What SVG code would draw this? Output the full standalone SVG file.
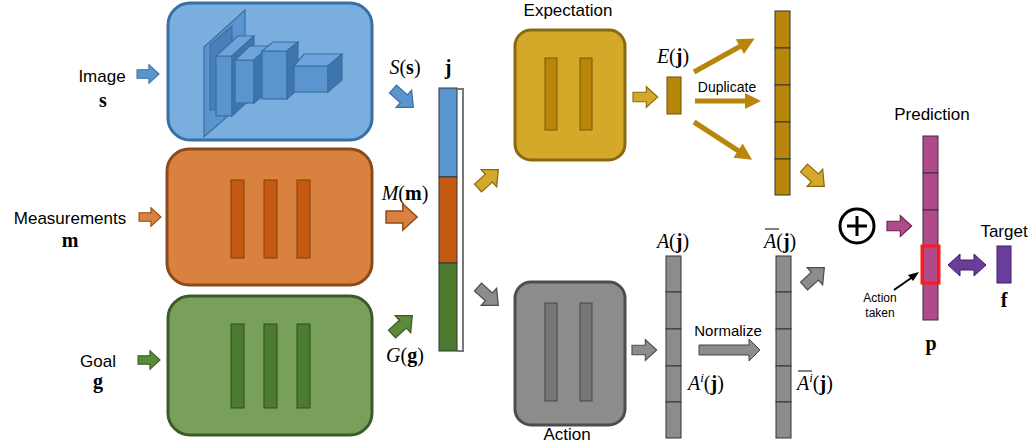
<svg xmlns="http://www.w3.org/2000/svg" xmlns:xlink="http://www.w3.org/1999/xlink" width="1035" height="443" viewBox="0 0 1035 443">
<style>
.sans{font-family:"Liberation Sans",Arial,sans-serif;fill:#000}
.math{font-family:"Liberation Serif","Times New Roman",serif;fill:#000}
.cell{stroke:#333;stroke-width:1}
</style>
<defs>
<path id="ba" d="M0,-5 H14 V-11 L26,0 L14,11 V5 H0 Z" stroke-width="1.2"/>
<path id="la" d="M0,-2.5 H50 V-8 L66,0 L50,8 V2.5 H0 Z"/>
</defs>
<rect width="1035" height="443" fill="#fff"/>
<g id="image">
<rect x="168" y="3" width="204" height="137" rx="22" fill="#7aaedf" stroke="#3a6fa5" stroke-width="3"/>
<g fill="#5b95d0" stroke="#3a6fa5" stroke-width="1.2">
<polygon points="204,137 204,47 245,10 245,101"/>
<polygon points="210,45 232,26 232,110 210,110" fill="#4a80ba"/>
<rect x="216" y="56" width="16" height="60"/>
<polygon points="216,56 238,36 254,36 232,56" fill="#6da5db"/>
<polygon points="232,56 254,36 254,96 232,116" fill="#3f75ad"/>
<rect x="235" y="60" width="19" height="43"/>
<polygon points="235,60 250,46 270,46 254,60" fill="#6da5db"/>
<polygon points="254,60 270,46 270,90 254,103" fill="#3f75ad"/>
<rect x="262" y="51" width="25" height="48"/>
<polygon points="262,51 273,42 298,42 287,51" fill="#6da5db"/>
<polygon points="287,51 298,42 298,89 287,99" fill="#3f75ad"/>
<rect x="294" y="66" width="34" height="26"/>
<polygon points="294,66 304,54 342,54 328,66" fill="#6da5db"/>
<polygon points="328,66 342,54 342,80 328,92" fill="#3f75ad"/>
</g>
</g>
<g id="measurements">
<rect x="167" y="149" width="205" height="136" rx="22" fill="#d9813f" stroke="#8b4a1a" stroke-width="3"/>
<rect x="231" y="180" width="13" height="78" fill="#c45a12" stroke="#8b3a0a"/>
<rect x="264" y="180" width="13" height="78" fill="#c45a12" stroke="#8b3a0a"/>
<rect x="297" y="180" width="13" height="78" fill="#c45a12" stroke="#8b3a0a"/>
</g>
<g id="goal">
<rect x="168" y="296" width="204" height="139" rx="22" fill="#78a05a" stroke="#3d5a27" stroke-width="3"/>
<rect x="231" y="324" width="13" height="84" fill="#4c7a2e" stroke="#2f4d1a"/>
<rect x="264" y="324" width="13" height="84" fill="#4c7a2e" stroke="#2f4d1a"/>
<rect x="297" y="324" width="13" height="84" fill="#4c7a2e" stroke="#2f4d1a"/>
</g>
<g id="inputs">
<text class="sans" x="102" y="82" font-size="17" text-anchor="middle">Image</text>
<text class="math" x="103" y="107" font-size="20" font-weight="bold" text-anchor="middle">s</text>
<text class="sans" x="70" y="224" font-size="17" text-anchor="middle">Measurements</text>
<text class="math" x="70" y="247" font-size="20" font-weight="bold" text-anchor="middle">m</text>
<text class="sans" x="98" y="367" font-size="17" text-anchor="middle">Goal</text>
<text class="math" x="98" y="388" font-size="20" font-weight="bold" text-anchor="middle">g</text>
</g>
<g id="j">
<rect x="439" y="88" width="18" height="89" fill="#5b95d0" stroke="#333"/>
<rect x="439" y="177" width="18" height="86" fill="#c45a12" stroke="#333"/>
<rect x="439" y="263" width="18" height="88" fill="#4c7a2e" stroke="#333"/>
<path d="M457,89 H463 V351 H457" fill="none" stroke="#777" stroke-width="2"/>
<text class="math" x="448" y="74" font-size="20" font-weight="bold" text-anchor="middle">j</text>
<text class="math" x="405" y="74" font-size="20" text-anchor="middle"><tspan font-style="italic">S</tspan>(<tspan font-weight="bold">s</tspan>)</text>
<text class="math" x="405" y="200" font-size="20" text-anchor="middle"><tspan font-style="italic">M</tspan>(<tspan font-weight="bold">m</tspan>)</text>
<text class="math" x="405" y="362" font-size="20" text-anchor="middle"><tspan font-style="italic">G</tspan>(<tspan font-weight="bold">g</tspan>)</text>
</g>
<g id="expectation">
<rect x="515" y="30" width="110" height="130" rx="16" fill="#d4a829" stroke="#8a6a10" stroke-width="3"/>
<rect x="545" y="58" width="12" height="72" fill="#b8860b" stroke="#7a5a05"/>
<rect x="580" y="58" width="12" height="72" fill="#b8860b" stroke="#7a5a05"/>
<text class="sans" x="568" y="16" font-size="17" text-anchor="middle">Expectation</text>
</g>
<g id="action">
<rect x="515" y="282" width="110" height="143" rx="16" fill="#8c8c8c" stroke="#4d4d4d" stroke-width="3"/>
<rect x="545" y="303" width="12" height="98" fill="#777" stroke="#444"/>
<rect x="580" y="303" width="12" height="98" fill="#777" stroke="#444"/>
<text class="sans" x="567" y="440" font-size="17" text-anchor="middle">Action</text>
</g>
<g id="ej">
<rect x="667" y="77" width="14" height="37" fill="#b8860b" stroke="#6a5005"/>
<text class="math" x="673" y="63" font-size="20" text-anchor="middle"><tspan font-style="italic">E</tspan>(<tspan font-weight="bold">j</tspan>)</text>
</g>
<g id="expvec" fill="#b8860b" class="cell">
<rect x="775" y="11" width="15" height="37"/><rect x="775" y="48" width="15" height="37"/><rect x="775" y="85" width="15" height="37"/><rect x="775" y="122" width="15" height="37"/><rect x="775" y="159" width="15" height="36"/>
</g>
<g id="aj" fill="#8c8c8c" class="cell">
<rect x="666" y="256" width="15" height="36"/><rect x="666" y="292" width="15" height="37"/><rect x="666" y="329" width="15" height="37"/><rect x="666" y="366" width="15" height="36"/><rect x="666" y="402" width="15" height="36"/>
</g>
<g id="abarj" fill="#8c8c8c" class="cell">
<rect x="776" y="256" width="15" height="36"/><rect x="776" y="292" width="15" height="37"/><rect x="776" y="329" width="15" height="37"/><rect x="776" y="366" width="15" height="36"/><rect x="776" y="402" width="15" height="36"/>
</g>
<g id="alabels">
<text class="math" x="673" y="248" font-size="20" text-anchor="middle"><tspan font-style="italic">A</tspan>(<tspan font-weight="bold">j</tspan>)</text>
<text class="math" x="764" y="248" font-size="20"><tspan font-style="italic">A</tspan>(<tspan font-weight="bold">j</tspan>)</text>
<line x1="765" y1="229" x2="779" y2="229" stroke="#000" stroke-width="1"/>
<text class="math" x="688" y="390" font-size="20"><tspan font-style="italic">A</tspan><tspan font-style="italic" font-size="13" dy="-8">i</tspan><tspan dy="8">(</tspan><tspan font-weight="bold">j</tspan>)</text>
<text class="math" x="797" y="390" font-size="20"><tspan font-style="italic">A</tspan><tspan font-style="italic" font-size="13" dy="-8">i</tspan><tspan dy="8">(</tspan><tspan font-weight="bold">j</tspan>)</text>
<line x1="798" y1="371" x2="812" y2="371" stroke="#000" stroke-width="1"/>
<text class="sans" x="728" y="336" font-size="15" text-anchor="middle">Normalize</text>
<text class="sans" x="727" y="92" font-size="14" text-anchor="middle">Duplicate</text>
</g>
<g id="prediction">
<g fill="#b04a8a" class="cell">
<rect x="923" y="136" width="15" height="37"/><rect x="923" y="173" width="15" height="37"/><rect x="923" y="210" width="15" height="36"/><rect x="923" y="246" width="15" height="37"/><rect x="923" y="283" width="15" height="37"/>
</g>
<rect x="922" y="246" width="17" height="37" fill="none" stroke="#ff1a1a" stroke-width="3"/>
<text class="sans" x="932" y="120" font-size="17" text-anchor="middle">Prediction</text>
<text class="math" x="931" y="350" font-size="20" font-weight="bold" text-anchor="middle">p</text>
<text class="sans" x="880" y="302" font-size="12" text-anchor="middle">Action</text>
<text class="sans" x="880" y="317" font-size="12" text-anchor="middle">taken</text>
</g>
<g id="target">
<rect x="997" y="246" width="14" height="37" fill="#6a3d9a" stroke="#3c1f66"/>
<text class="sans" x="1004" y="237" font-size="17" text-anchor="middle">Target</text>
<text class="math" x="1004" y="307" font-size="20" font-weight="bold" text-anchor="middle">f</text>
</g>
<g id="plus">
<circle cx="857" cy="226" r="17" fill="#fff" stroke="#000" stroke-width="3"/>
<path d="M847,226 H867 M857,216 V236" stroke="#000" stroke-width="3"/>
</g>
<g id="connectors">
<use xlink:href="#ba" fill="#5b95d0" stroke="#3a6fa5" transform="translate(137,74) scale(0.85)"/>
<use xlink:href="#ba" fill="#d9813f" stroke="#8b4a1a" transform="translate(139,217) scale(0.85)"/>
<use xlink:href="#ba" fill="#5a8a3a" stroke="#3d5a27" transform="translate(138,360) scale(0.85)"/>
<use xlink:href="#ba" fill="#5b95d0" stroke="#3a6fa5" transform="translate(393,89) rotate(42) scale(1.05)"/>
<use xlink:href="#ba" fill="#d9813f" stroke="#8b4a1a" transform="translate(386,217) scale(1.2)"/>
<use xlink:href="#ba" fill="#5a8a3a" stroke="#3d5a27" transform="translate(392,334) rotate(-42) scale(1.05)"/>
<use xlink:href="#ba" fill="#d4a829" stroke="#8a6a10" transform="translate(478,188) rotate(-42) scale(1.05)"/>
<use xlink:href="#ba" fill="#8c8c8c" stroke="#4d4d4d" transform="translate(478,287) rotate(42) scale(1.05)"/>
<use xlink:href="#ba" fill="#d4a829" stroke="#8a6a10" transform="translate(633,97) scale(0.95)"/>
<use xlink:href="#ba" fill="#8c8c8c" stroke="#4d4d4d" transform="translate(632,350) scale(0.95)"/>
<use xlink:href="#ba" fill="#d4a829" stroke="#8a6a10" transform="translate(804,168) rotate(42) scale(1.05)"/>
<use xlink:href="#ba" fill="#8c8c8c" stroke="#4d4d4d" transform="translate(804,286) rotate(-42) scale(1.05)"/>
<use xlink:href="#ba" fill="#b04a8a" stroke="#6a2050" transform="translate(887,226) scale(0.95)"/>
<use xlink:href="#la" fill="#b8860b" transform="translate(694,72) rotate(-29) scale(1.05)"/>
<use xlink:href="#la" fill="#b8860b" transform="translate(695,101) scale(1.0)"/>
<use xlink:href="#la" fill="#b8860b" transform="translate(694,122) rotate(33) scale(1.05)"/>
<path d="M699,345 H749 V339 L760,350 L749,361 V355 H699 Z" fill="#8c8c8c" stroke="#444"/>
<path d="M948,265 L960,254 V260 H974 V254 L986,265 L974,276 V270 H960 V276 Z" fill="#6a3d9a" stroke="#3c1f66"/>
<line x1="894" y1="290" x2="914" y2="276" stroke="#000" stroke-width="2"/>
<path d="M919,272 L908,275 L913,281 Z" fill="#000"/>
</g>
</svg>
